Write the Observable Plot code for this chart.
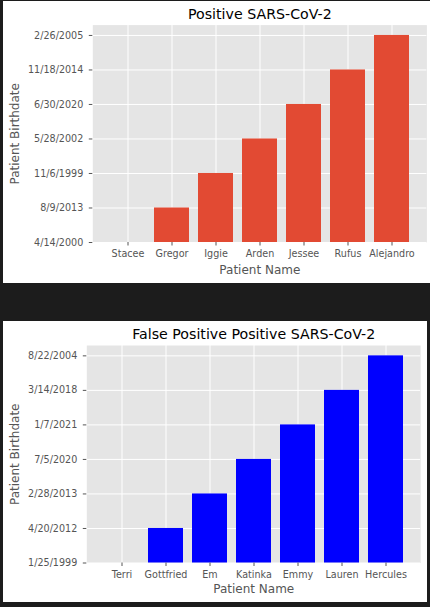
<!DOCTYPE html>
<html>
<head>
<meta charset="utf-8">
<script src="https://cdn.jsdelivr.net/npm/d3@7"></script>
<script src="https://cdn.jsdelivr.net/npm/@observablehq/plot@0.6"></script>
<style>
  body { margin: 0; background: #1c1c1c; width: 430px; height: 607px; position: relative; overflow: hidden; }
  .panel { position: absolute; background: #fff; }
  #top { left: 3px; top: 1px; width: 427px; height: 281.5px; }
  #bottom { left: 3px; top: 321px; width: 424px; height: 281px; }
</style>
</head>
<body>
<div id="top" class="panel"></div>
<div id="bottom" class="panel"></div>
<script>
// positive patients, in plotting order, with birthdate (categorical y)
var posNames = ["Stacee", "Gregor", "Iggie", "Arden", "Jessee", "Rufus", "Alejandro"];
var posDates = ["4/14/2000", "8/9/2013", "11/6/1999", "5/28/2002", "6/30/2020", "11/18/2014", "2/26/2005"];

// false positive patients
var fpNames = ["Terri", "Gottfried", "Em", "Katinka", "Emmy", "Lauren", "Hercules"];
var fpDates = ["1/25/1999", "4/20/2012", "2/28/2013", "7/5/2020", "1/7/2021", "3/14/2018", "8/22/2004"];

function draw_chart(el, opts) {
  // matplotlib treats the date strings as categories: position = order of first appearance
  var cats = Array.from(new Set(opts.dates));
  var rows = opts.names.map((n, i) => ({ name: n, pos: cats.indexOf(opts.dates[i]) }));
  var ticks = d3.range(cats.length);
  var lab = { textAnchor: "middle", lineAnchor: "middle" };
  var chart = Plot.plot({
    width: opts.width,
    height: opts.height,
    marginLeft: opts.ml,
    marginRight: opts.mr,
    marginTop: opts.mt,
    marginBottom: opts.mb,
    style: { fontFamily: "DejaVu Sans", fontSize: "9.6px", color: "#555555", background: "transparent" },
    x: { type: "band", domain: opts.names, paddingInner: 0.2, paddingOuter: 0.34, label: null },
    y: { domain: [0, (cats.length - 1) * 1.05], label: null },
    marks: [
      Plot.frame({ fill: "#e5e5e5", stroke: null }),
      Plot.gridX({ stroke: "white", strokeOpacity: 1, strokeWidth: 1 }),
      Plot.gridY(ticks, { stroke: "white", strokeOpacity: 1, strokeWidth: 1 }),
      Plot.barY(rows, { x: "name", y: "pos", fill: opts.color }),
      Plot.axisX({ tickSize: 3.5, tickPadding: 4.5, stroke: "#555555", fill: "#555555", label: null }),
      Plot.axisY(ticks, { tickFormat: (i) => cats[i], tickSize: 3.5, tickPadding: 6, stroke: "#555555", fill: "#555555", label: null }),
      // title and axis labels
      Plot.text([opts.title], { ...lab, frameAnchor: "top", dy: opts.titleDy, fontSize: 14.2, fill: "black" }),
      Plot.text(["Patient Name"], { ...lab, frameAnchor: "bottom", dy: opts.xlabDy, fontSize: 12, fill: "#555555" }),
      Plot.text(["Patient Birthdate"], { ...lab, frameAnchor: "left", dx: opts.ylabDx, rotate: -90, fontSize: 12, fill: "#555555" }),
    ],
  });
  document.getElementById(el).append(chart);
}

draw_chart("top", {
  names: posNames, dates: posDates, color: "#E24A33",
  title: "Positive SARS-CoV-2",
  width: 427, height: 281.5, ml: 89.3, mr: 3.6, mt: 23.6, mb: 40.5,
  titleDy: -10.6, xlabDy: 27.7, ylabDx: -77.8,
});

draw_chart("bottom", {
  names: fpNames, dates: fpDates, color: "#0000FF",
  title: "False Positive Positive SARS-CoV-2",
  width: 424, height: 281, ml: 83.3, mr: 6.9, mt: 24, mb: 39.5,
  titleDy: -10.7, xlabDy: 26.5, ylabDx: -71.8,
});
</script>
</body>
</html>
